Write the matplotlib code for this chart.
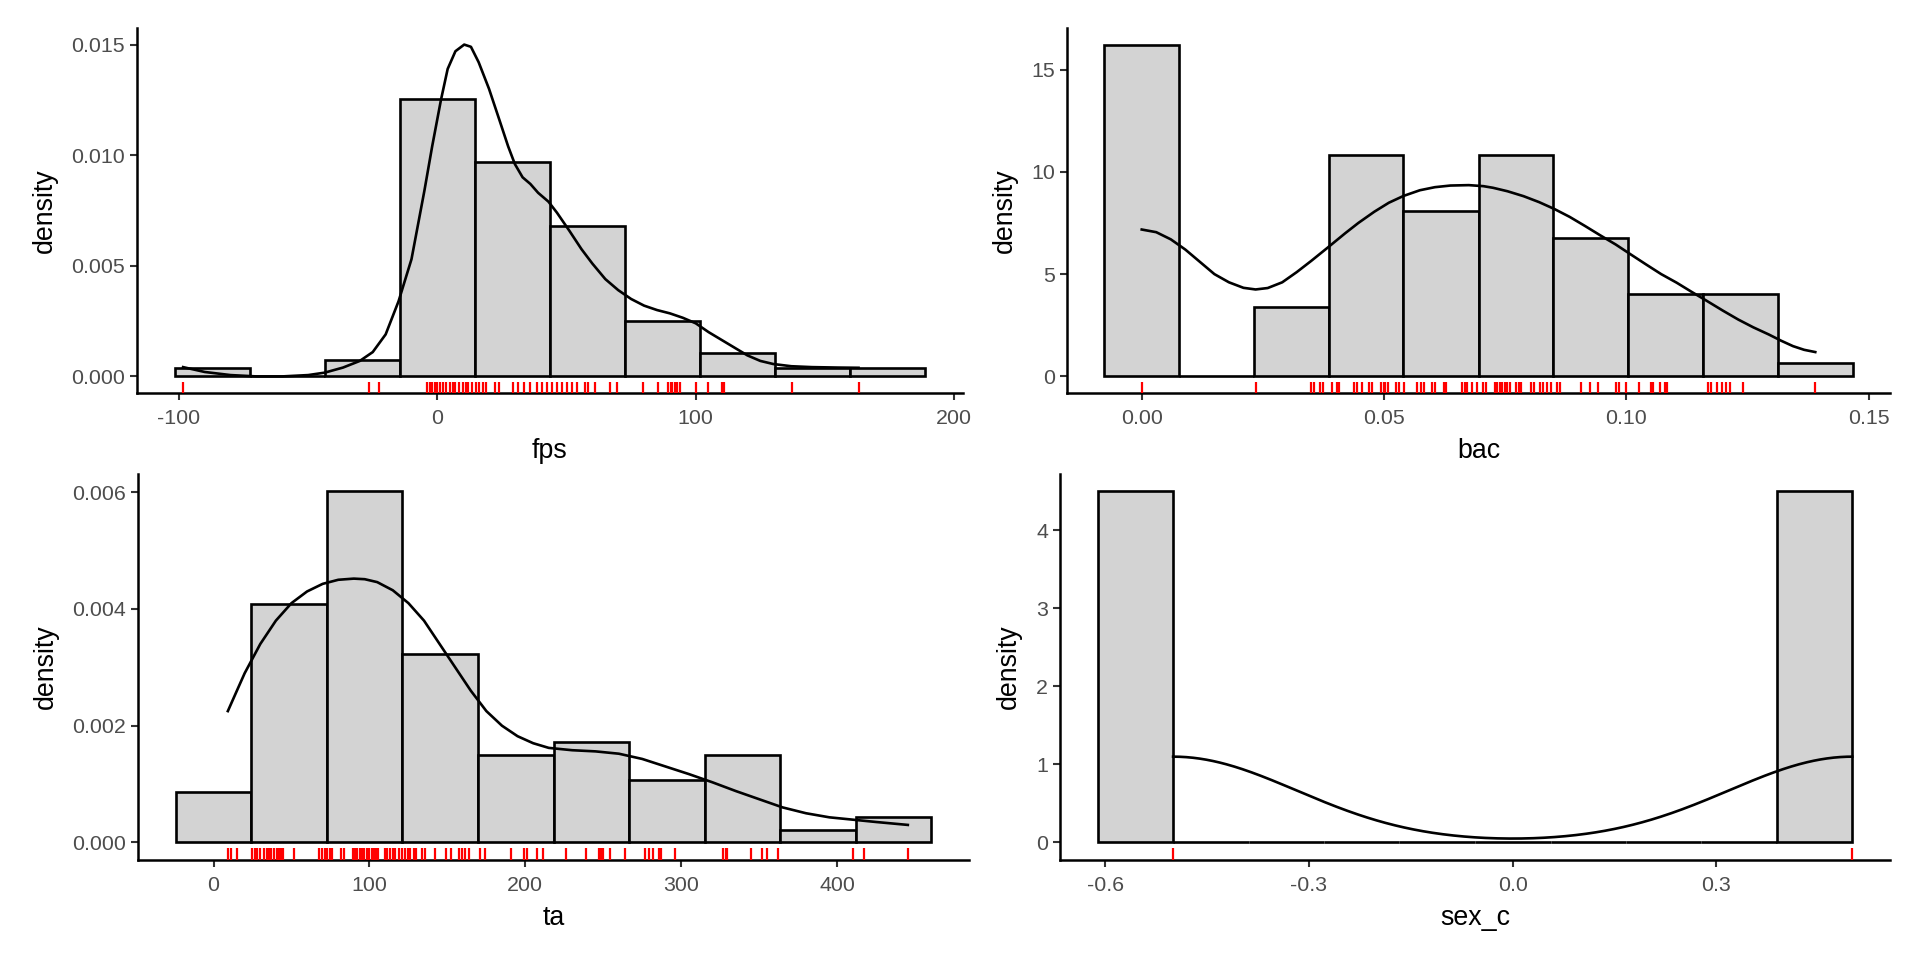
import numpy as np
import matplotlib
matplotlib.use("Agg")
import matplotlib.pyplot as plt

plt.rcParams["font.family"] = ["Liberation Sans", "DejaVu Sans"]

# ---- fps ----
fps_breaks = [-101.7, -72.6, -43.6, -14.5, 14.5, 43.6, 72.6, 101.7, 130.8, 159.8, 188.9]
fps_density = [0.00036, 0.0, 0.00072, 0.01254, 0.00968, 0.00681, 0.00251, 0.00108, 0.00036, 0.00036]
fps_rug = [-98.4, -26.3, -22.4, -4.0, -3.0, -2.0, -1.0, 0.0, 1.0, 2.0, 3.5, 5.0, 6.0, 7.0, 8.5,
           10.0, 11.0, 12.0, 13.5, 15.0, 16.0, 17.5, 19.0, 22.4, 23.7, 29.1, 31.4, 33.4, 35.9,
           38.5, 40.4, 42.3, 44.3, 46.2, 48.2, 50.1, 52.1, 54.0, 57.0, 58.4, 61.0, 66.9, 69.5,
           79.5, 85.5, 89.4, 90.3, 91.0, 92.0, 92.6, 93.9, 100.0, 104.9, 110.0, 111.0, 137.2, 163.0]
fps_curve_x = [-98.4, -90, -80, -70, -60, -50, -43.6, -36.5, -30, -25, -20, -15, -10, -5, -2,
               1.4, 4, 7, 10.4, 13, 16, 20, 24, 27.4, 30, 33, 36, 39, 43, 46.3, 51, 55.8, 60,
               65, 70, 75, 80, 85, 90, 95, 100, 105, 110, 115, 120, 125, 130, 137, 145, 155, 163]
fps_curve_y = [0.00042, 0.0002, 0.00006, 0.0, 0.0, 0.00006, 0.00017, 0.0004, 0.0007, 0.0011,
               0.0019, 0.0034, 0.0053, 0.0084, 0.0104, 0.0125, 0.0139, 0.0147, 0.0150, 0.0149,
               0.0142, 0.0130, 0.0116, 0.0104, 0.0096, 0.0090, 0.0087, 0.0083, 0.0079, 0.0074,
               0.0066, 0.00575, 0.0051, 0.0044, 0.0039, 0.0035, 0.0032, 0.0030, 0.00285,
               0.00265, 0.0024, 0.0020, 0.00165, 0.0013, 0.00095, 0.0007, 0.00056, 0.00046,
               0.00042, 0.0004, 0.00039]

# ---- bac ----
bac_breaks = [-0.0077, 0.0077, 0.0232, 0.0386, 0.0540, 0.0695, 0.0849, 0.1004, 0.1158, 0.1313, 0.1467]
bac_density = [16.22, 0.0, 3.39, 10.80, 8.11, 10.80, 6.78, 4.04, 4.04, 0.67]
bac_rug = [0.0, 0.0235, 0.0349, 0.0356, 0.0368, 0.0375, 0.0393, 0.0402, 0.0407, 0.0439, 0.0445,
           0.0455, 0.0469, 0.0476, 0.0493, 0.0499, 0.0503, 0.0508, 0.0524, 0.0531, 0.0541,
           0.0569, 0.0576, 0.0582, 0.0600, 0.0606, 0.0624, 0.0627, 0.0660, 0.0667, 0.0672,
           0.0682, 0.0692, 0.0705, 0.0710, 0.0729, 0.0734, 0.0740, 0.0744, 0.0749, 0.0754,
           0.0761, 0.0772, 0.0778, 0.0783, 0.0803, 0.0809, 0.0822, 0.0829, 0.0837, 0.0845,
           0.0858, 0.0863, 0.0906, 0.0925, 0.0941, 0.0979, 0.0984, 0.1000, 0.1027, 0.1051,
           0.1056, 0.1069, 0.1080, 0.1085, 0.1169, 0.1174, 0.1187, 0.1197, 0.1206, 0.1214,
           0.1240, 0.1390]
bac_curve_x = [0.0, 0.003, 0.006, 0.009, 0.012, 0.015, 0.018, 0.021, 0.0235, 0.026, 0.029,
               0.032, 0.035, 0.0384, 0.042, 0.0447, 0.048, 0.051, 0.054, 0.0574, 0.0605,
               0.0637, 0.0675, 0.0705, 0.0725, 0.0755, 0.0788, 0.082, 0.0851, 0.0883, 0.0915,
               0.0946, 0.0978, 0.101, 0.1041, 0.1072, 0.1104, 0.1135, 0.1167, 0.1199, 0.1231,
               0.1262, 0.1294, 0.132, 0.1344, 0.1367, 0.139]
bac_curve_y = [7.18, 7.05, 6.7, 6.2, 5.6, 5.0, 4.6, 4.33, 4.25, 4.32, 4.6, 5.1, 5.65, 6.3, 7.0,
               7.5, 8.05, 8.49, 8.82, 9.10, 9.25, 9.33, 9.35, 9.3, 9.22, 9.05, 8.81, 8.52, 8.19,
               7.8, 7.35, 6.9, 6.45, 5.95, 5.47, 5.0, 4.58, 4.13, 3.68, 3.22, 2.78, 2.4, 2.05,
               1.74, 1.48, 1.3, 1.19]

# ---- ta ----
ta_breaks = [-24.2, 24.2, 72.7, 121.1, 169.6, 218.1, 266.5, 315.0, 363.4, 411.9, 460.3]
ta_density = [0.00086, 0.00408, 0.00602, 0.00322, 0.00150, 0.00172, 0.00107, 0.00150, 0.00022, 0.00043]
ta_rug = [9.2, 10.9, 15.2, 24.8, 26.3, 28.0, 29.7, 32.3, 34.0, 35.5, 37.0, 38.7, 40.4, 41.9,
          43.4, 44.7, 51.5, 67.5, 69.7, 71.2, 72.9, 74.6, 76.1, 81.8, 83.5, 89.5, 91.0, 92.1,
          93.8, 95.3, 96.8, 98.5, 100.0, 101.7, 103.2, 104.5, 105.6, 109.8, 111.3, 113.5,
          115.2, 116.7, 118.8, 121.0, 123.1, 124.6, 126.3, 128.4, 130.1, 133.8, 135.9, 141.9,
          149.4, 152.0, 157.3, 159.4, 161.5, 163.7, 170.7, 173.9, 190.8, 199.4, 201.0, 207.5,
          211.3, 226.0, 238.9, 247.0, 248.7, 249.8, 254.0, 264.1, 276.9, 279.0, 281.8, 285.7,
          287.2, 295.7, 326.7, 328.4, 329.5, 344.9, 351.9, 354.9, 362.0, 410.0, 417.1, 445.3]
ta_curve_x = [9.2, 15, 20, 30, 40, 50, 60, 70, 80, 90, 97, 105, 115, 125, 135, 145, 155, 165,
              175, 185, 195, 205, 215, 230, 245, 260, 275, 290, 305, 320, 335, 350, 365, 380,
              395, 410, 425, 445.3]
ta_curve_y = [0.00225, 0.0026, 0.0029, 0.0034, 0.0038, 0.0041, 0.0043, 0.00443, 0.0045,
              0.00452, 0.00451, 0.00446, 0.00432, 0.0041, 0.0038, 0.0034, 0.0030, 0.0026,
              0.00225, 0.0020, 0.00182, 0.0017, 0.00162, 0.00158, 0.00156, 0.00152, 0.00143,
              0.0013, 0.00117, 0.00103, 0.00088, 0.00074, 0.0006, 0.0005, 0.00043, 0.00039,
              0.00035, 0.0003]

# ---- sex_c ----
sex_breaks = [-0.611, -0.5, -0.389, -0.278, -0.167, -0.056, 0.056, 0.167, 0.278, 0.389, 0.5]
sex_density = [4.5, 0, 0, 0, 0, 0, 0, 0, 0, 4.5]
sex_values = [-0.5, 0.5]
sex_counts = [48, 48]


def sex_curve():
    # gaussian kde (bw.nrd0) of the two groups, like geom_density
    data = np.repeat(sex_values, sex_counts)
    sd = data.std(ddof=1)
    iqr = np.subtract(*np.percentile(data, [75, 25]))
    bw = 0.9 * min(sd, iqr / 1.34) * len(data) ** -0.2
    xs = np.linspace(data.min(), data.max(), 512)
    ys = np.exp(-0.5 * ((xs[:, None] - data[None, :]) / bw) ** 2).sum(1)
    ys /= len(data) * bw * np.sqrt(2 * np.pi)
    return xs, ys


def panel(rect, breaks, dens, rug, cx, cy, xlabel, xticks, xtl, yticks, ytl):
    ax = fig.add_axes([rect[0] / W, 1 - rect[3] / H, (rect[1] - rect[0]) / W, (rect[3] - rect[2]) / H])
    b = np.array(breaks)
    ax.bar(b[:-1], dens, width=np.diff(b), align="edge", color="lightgray",
           edgecolor="black", linewidth=1.9, zorder=2)
    ax.plot(cx, cy, color="black", linewidth=1.9, zorder=3, solid_joinstyle="round")
    ax.vlines(rug, 0, 0.03, transform=ax.get_xaxis_transform(), color="red",
              linewidth=1.6, zorder=3)
    xr = b[-1] - b[0]
    ax.set_xlim(b[0] - 0.05 * xr, b[-1] + 0.05 * xr)
    ymax = max(max(dens), max(cy))
    ax.set_ylim(-0.05 * ymax, ymax * 1.05)
    ax.set_xticks(xticks)
    ax.set_xticklabels(xtl)
    ax.set_yticks(yticks)
    ax.set_yticklabels(ytl)
    for s in ["top", "right"]:
        ax.spines[s].set_visible(False)
    for s in ["left", "bottom"]:
        ax.spines[s].set_linewidth(1.8)
    ax.tick_params(length=5, width=1.5, color="#333333", labelcolor="#4D4D4D",
                   labelsize=15.4)
    ax.tick_params(axis="x", pad=6.5)
    ax.tick_params(axis="y", pad=3.5)
    ax.set_xlabel(xlabel, fontsize=19.3, labelpad=7)
    ax.set_ylabel("density", fontsize=19.3, labelpad=10)
    return ax


W, H = 1920, 960
fig = plt.figure(figsize=(19.2, 9.6), dpi=100)

panel((137, 963, 28, 393), fps_breaks, fps_density, fps_rug, fps_curve_x, fps_curve_y,
      "fps", [-100, 0, 100, 200], ["-100", "0", "100", "200"],
      [0, 0.005, 0.010, 0.015], ["0.000", "0.005", "0.010", "0.015"])
panel((1067, 1890, 28, 393), bac_breaks, bac_density, bac_rug, bac_curve_x, bac_curve_y,
      "bac", [0, 0.05, 0.10, 0.15], ["0.00", "0.05", "0.10", "0.15"],
      [0, 5, 10, 15], ["0", "5", "10", "15"])
panel((138, 969, 473.5, 860), ta_breaks, ta_density, ta_rug, ta_curve_x, ta_curve_y,
      "ta", [0, 100, 200, 300, 400], ["0", "100", "200", "300", "400"],
      [0, 0.002, 0.004, 0.006], ["0.000", "0.002", "0.004", "0.006"])
sx, sy = sex_curve()
panel((1060, 1890, 473.5, 860), sex_breaks, sex_density, sex_values, sx, sy,
      "sex_c", [-0.6, -0.3, 0.0, 0.3], ["-0.6", "-0.3", "0.0", "0.3"],
      [0, 1, 2, 3, 4], ["0", "1", "2", "3", "4"])

fig.savefig("out.png", dpi=100)
